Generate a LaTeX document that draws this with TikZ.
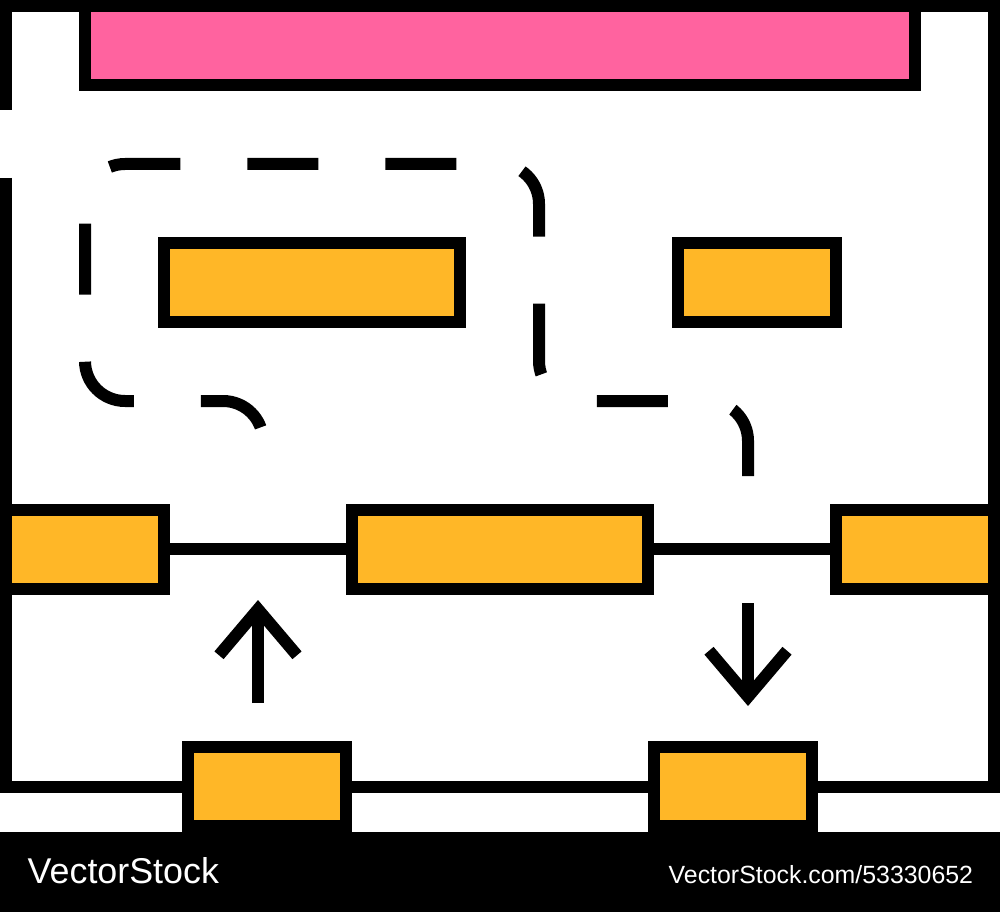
\documentclass[tikz,border=0pt]{standalone}
\usepackage{fontspec}
\setmainfont{Liberation Sans}
\usepackage{xcolor}
\usetikzlibrary{arrows.meta}
\definecolor{boxorange}{HTML}{FFB727}
\definecolor{barpink}{HTML}{FF639F}
\tikzset{
  wall/.style={line width=0.12cm},
  unitbox/.style={draw,line width=0.12cm,fill=boxorange,minimum height=0.79cm,inner sep=0pt,outer sep=0pt},
  flow/.style={line width=0.12cm,-{Straight Barb[sharp,length=0.46cm,width=0.78cm]}},
  route/.style={line width=0.12cm,rounded corners=0.4cm,dash pattern=on 0.71cm off 0.67cm},
  brand/.style={text=white,inner sep=0pt,anchor=base west}
}
\begin{document}
\begin{tikzpicture}
\useasboundingbox (0,0) rectangle (10,9.12);

\coordinate (wallgaptop) at (0.06,8.02);
\coordinate (wallgapbot) at (0.06,7.34);
\coordinate (cornerbl) at (0.06,1.255);
\coordinate (cornerbr) at (9.94,1.255);
\coordinate (railleft) at (0,1.255);
\coordinate (railright) at (10,1.255);

\draw[wall] (wallgaptop) -- (0.06,9.06) -- (9.94,9.06) -- (cornerbr);
\draw[wall] (wallgapbot) -- (cornerbl);

\node[unitbox,fill=barpink,minimum width=8.30cm] (topbar) at (5,8.665) {};

\node[unitbox,minimum width=2.96cm] (upperlong) at (3.12,6.295) {};
\node[unitbox,minimum width=1.58cm] (uppershort) at (7.57,6.295) {};

\node[unitbox,minimum width=1.58cm] (midleft) at (0.85,3.625) {};
\node[unitbox,minimum width=2.96cm] (midcentre) at (5,3.625) {};
\node[unitbox,minimum width=1.58cm] (midright) at (9.15,3.625) {};

\node[unitbox,minimum width=1.58cm] (lowleft) at (2.67,1.255) {};
\node[unitbox,minimum width=1.58cm] (lowright) at (7.33,1.255) {};

\draw[wall] ([yshift=0.005cm]midleft.east) -- ([yshift=0.005cm]midcentre.west);
\draw[wall] ([yshift=0.005cm]midcentre.east) -- ([yshift=0.005cm]midright.west);
\draw[wall] (railleft) -- (lowleft);
\draw[wall] (lowleft) -- (lowright);
\draw[wall] (lowright) -- (railright);

% dashed route
\draw[route] (7.48,4.36) -- (7.48,5.11) -- (5.39,5.11) -- (5.39,7.48) -- (0.85,7.48) -- (0.85,5.11) -- (2.63,5.11) -- (2.63,4.67);

\coordinate (upfrom) at (2.58,2.09);
\coordinate (upto) at (2.58,3.12);
\coordinate (downfrom) at (7.48,3.09);
\coordinate (downto) at (7.48,2.06);
\draw[flow] (upfrom) -- (upto);
\draw[flow] (downfrom) -- (downto);

\node[fill=black,minimum width=10cm,minimum height=0.80cm,inner sep=0pt,outer sep=0pt] (band) at (5,0.40) {};
\node[brand,font=\fontsize{10.2pt}{12pt}\selectfont] (brandname) at (0.27,0.29) {VectorStock};
\node[brand,font=\fontsize{7.08pt}{9pt}\selectfont] (brandlink) at (6.68,0.29) {VectorStock.com/53330652};
\end{tikzpicture}
\end{document}
